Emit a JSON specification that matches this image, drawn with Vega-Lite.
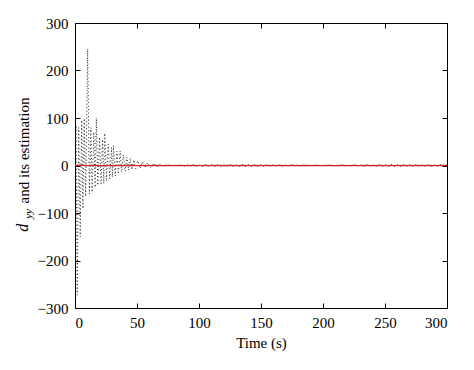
{
  "$schema": "https://vega.github.io/schema/vega-lite/v6.json",
  "width": 372,
  "height": 285,
  "autosize": "none",
  "padding": {"left": 75, "top": 23, "right": 27, "bottom": 62},
  "background": "white",
  "config": {
    "font": "Liberation Serif",
    "view": {"stroke": "black", "strokeWidth": 1},
    "axis": {
      "grid": false,
      "domainColor": "black",
      "tickColor": "black",
      "labelColor": "black",
      "titleColor": "black",
      "labelFont": "Liberation Serif",
      "titleFont": "Liberation Serif",
      "labelFontSize": 15,
      "titleFontSize": 15,
      "titleFontWeight": "normal",
      "tickSize": -5,
      "labelPadding": 12
    }
  },
  "datasets": {
    "est": [
      {"t": 0, "v": 0}, {"t": 5, "v": 0.6}, {"t": 10, "v": -0.4}, {"t": 15, "v": 0.5}, {"t": 20, "v": -0.3},
      {"t": 25, "v": 0.4}, {"t": 30, "v": -0.5}, {"t": 35, "v": 0.3}, {"t": 40, "v": -0.2}, {"t": 45, "v": 0.5},
      {"t": 50, "v": -0.4}, {"t": 55, "v": 0.3}, {"t": 60, "v": -0.3}, {"t": 65, "v": 0.4}, {"t": 70, "v": -0.2},
      {"t": 75, "v": 0.3}, {"t": 80, "v": -0.4}, {"t": 85, "v": 0.2}, {"t": 90, "v": -0.3}, {"t": 95, "v": 0.4},
      {"t": 100, "v": -0.2}, {"t": 105, "v": 0.3}, {"t": 110, "v": -0.4}, {"t": 115, "v": 0.3}, {"t": 120, "v": -0.2},
      {"t": 125, "v": 0.4}, {"t": 130, "v": -0.3}, {"t": 135, "v": 0.2}, {"t": 140, "v": -0.4}, {"t": 145, "v": 0.3},
      {"t": 150, "v": -0.2}, {"t": 155, "v": 0.4}, {"t": 160, "v": -0.3}, {"t": 165, "v": 0.2}, {"t": 170, "v": -0.4},
      {"t": 175, "v": 0.3}, {"t": 180, "v": -0.2}, {"t": 185, "v": 0.4}, {"t": 190, "v": -0.3}, {"t": 195, "v": 0.2},
      {"t": 200, "v": -0.4}, {"t": 205, "v": 0.3}, {"t": 210, "v": -0.2}, {"t": 215, "v": 0.4}, {"t": 220, "v": -0.3},
      {"t": 225, "v": 0.2}, {"t": 230, "v": -0.4}, {"t": 235, "v": 0.3}, {"t": 240, "v": -0.2}, {"t": 245, "v": 0.4},
      {"t": 250, "v": -0.3}, {"t": 255, "v": 0.2}, {"t": 260, "v": -0.4}, {"t": 265, "v": 0.3}, {"t": 270, "v": -0.2},
      {"t": 275, "v": 0.4}, {"t": 280, "v": -0.3}, {"t": 285, "v": 0.2}, {"t": 290, "v": -0.4}, {"t": 295, "v": 0.3},
      {"t": 300, "v": 0}
    ],
    "dyy": [
      {"t": 0, "v": 0}, {"t": 0.8, "v": 85}, {"t": 1.8, "v": -273}, {"t": 3.0, "v": 80}, {"t": 4.2, "v": -150},
      {"t": 5.4, "v": 95}, {"t": 6.4, "v": -91}, {"t": 7.4, "v": 99}, {"t": 8.6, "v": -65}, {"t": 10.2, "v": 245},
      {"t": 11.6, "v": -60}, {"t": 12.8, "v": 80}, {"t": 13.8, "v": -56}, {"t": 15.2, "v": 70}, {"t": 16.2, "v": -46},
      {"t": 17.2, "v": 100}, {"t": 18.4, "v": -42}, {"t": 19.8, "v": 60}, {"t": 21.0, "v": -39}, {"t": 22.3, "v": 55},
      {"t": 23.2, "v": -38}, {"t": 24.0, "v": 68}, {"t": 25.4, "v": -33}, {"t": 26.8, "v": 45}, {"t": 28.0, "v": -28},
      {"t": 29.4, "v": 38}, {"t": 30.2, "v": -24}, {"t": 31.0, "v": 42}, {"t": 32.4, "v": -22}, {"t": 33.8, "v": 30},
      {"t": 35.0, "v": -18}, {"t": 36.4, "v": 31}, {"t": 37.6, "v": -14}, {"t": 39.0, "v": 22}, {"t": 40.4, "v": -12},
      {"t": 41.8, "v": 18}, {"t": 43.2, "v": -10}, {"t": 44.6, "v": 15}, {"t": 46, "v": -9}, {"t": 47.5, "v": 12},
      {"t": 49, "v": -7}, {"t": 50.5, "v": 10}, {"t": 52.5, "v": -6}, {"t": 54.5, "v": 8}, {"t": 56.5, "v": -5},
      {"t": 58.5, "v": 6}, {"t": 61, "v": -4}, {"t": 63.5, "v": 5}, {"t": 66, "v": -3}, {"t": 68.5, "v": 3},
      {"t": 72.5, "v": -2}, {"t": 75, "v": 1.8}, {"t": 77.5, "v": -1.5}, {"t": 80, "v": 2.2}, {"t": 82.5, "v": -1.8},
      {"t": 85, "v": 1.5}, {"t": 87.5, "v": -2.3}, {"t": 90, "v": 1.9}, {"t": 92.5, "v": -1.4}, {"t": 95, "v": 2.1},
      {"t": 97.5, "v": -1.9}, {"t": 100, "v": 1.6}, {"t": 102.5, "v": -2.2}, {"t": 105, "v": 1.7}, {"t": 107.5, "v": -1.5},
      {"t": 110, "v": 2.3}, {"t": 112.5, "v": -1.8}, {"t": 115, "v": 1.4}, {"t": 117.5, "v": -2.1}, {"t": 120, "v": 1.9},
      {"t": 122.5, "v": -1.6}, {"t": 125, "v": 2.0}, {"t": 127.5, "v": -2.2}, {"t": 130, "v": 1.5}, {"t": 132.5, "v": -1.7},
      {"t": 135, "v": 2.2}, {"t": 137.5, "v": -1.9}, {"t": 140, "v": 1.6}, {"t": 142.5, "v": -2.0}, {"t": 145, "v": 1.8},
      {"t": 147.5, "v": -1.5}, {"t": 150, "v": 2.1}, {"t": 152.5, "v": -2.3}, {"t": 155, "v": 1.7}, {"t": 157.5, "v": -1.6},
      {"t": 160, "v": 2.0}, {"t": 162.5, "v": -1.8}, {"t": 165, "v": 1.5}, {"t": 167.5, "v": -2.1}, {"t": 170, "v": 1.9},
      {"t": 172.5, "v": -1.7}, {"t": 175, "v": 2.2}, {"t": 177.5, "v": -1.5}, {"t": 180, "v": 1.8}, {"t": 182.5, "v": -2.0},
      {"t": 185, "v": 1.6}, {"t": 187.5, "v": -2.2}, {"t": 190, "v": 2.0}, {"t": 192.5, "v": -1.6}, {"t": 195, "v": 1.7},
      {"t": 197.5, "v": -1.9}, {"t": 200, "v": 2.1}, {"t": 202.5, "v": -1.5}, {"t": 205, "v": 1.8}, {"t": 207.5, "v": -2.3},
      {"t": 210, "v": 1.6}, {"t": 212.5, "v": -1.8}, {"t": 215, "v": 2.2}, {"t": 217.5, "v": -1.7}, {"t": 220, "v": 1.5},
      {"t": 222.5, "v": -2.0}, {"t": 225, "v": 1.9}, {"t": 227.5, "v": -1.6}, {"t": 230, "v": 2.1}, {"t": 232.5, "v": -2.2},
      {"t": 235, "v": 1.7}, {"t": 237.5, "v": -1.5}, {"t": 240, "v": 2.0}, {"t": 242.5, "v": -1.9}, {"t": 245, "v": 1.6},
      {"t": 247.5, "v": -2.1}, {"t": 250, "v": 1.8}, {"t": 252.5, "v": -1.7}, {"t": 255, "v": 2.2}, {"t": 257.5, "v": -1.5},
      {"t": 260, "v": 1.9}, {"t": 262.5, "v": -2.0}, {"t": 265, "v": 1.6}, {"t": 267.5, "v": -1.8}, {"t": 270, "v": 2.1},
      {"t": 272.5, "v": -2.2}, {"t": 275, "v": 1.7}, {"t": 277.5, "v": -1.6}, {"t": 280, "v": 2.0}, {"t": 282.5, "v": -1.9},
      {"t": 285, "v": 1.5}, {"t": 287.5, "v": -2.1}, {"t": 290, "v": 1.8}, {"t": 292.5, "v": -1.7}, {"t": 295, "v": 2.2},
      {"t": 297.5, "v": -1.6}, {"t": 300, "v": 1.5}
    ],
    "lab": [
      {"t": -38, "v": -131, "s": "d", "k": "main"},
      {"t": -34.5, "v": -102, "s": "yy", "k": "sub"}
    ]
  },
  "layer": [
    {
      "data": {"name": "dyy"},
      "mark": {"type": "line", "color": "#222222", "strokeWidth": 1, "strokeDash": [1, 2.5], "clip": true},
      "encoding": {
        "x": {"field": "t", "type": "quantitative", "scale": {"domain": [0, 300], "nice": false},
              "axis": {"orient": "top", "values": [0, 50, 100, 150, 200, 250, 300], "labels": false, "title": null, "domain": false}},
        "y": {"field": "v", "type": "quantitative", "scale": {"domain": [-300, 300], "nice": false},
              "axis": {"orient": "right", "values": [-300, -200, -100, 0, 100, 200, 300], "labels": false, "title": null, "domain": false}}
      }
    },
    {
      "data": {"name": "est"},
      "mark": {"type": "line", "color": "#c8282d", "strokeWidth": 1.3, "clip": true},
      "encoding": {
        "x": {"field": "t", "type": "quantitative",
              "axis": {"orient": "bottom", "values": [0, 50, 100, 150, 200, 250, 300], "title": "Time (s)", "titlePadding": 5, "labelFont": "Liberation Serif"}},
        "y": {"field": "v", "type": "quantitative",
              "axis": {"orient": "left", "values": [-300, -200, -100, 0, 100, 200, 300], "title": "and its estimation", "titleX": -44, "titleY": 127, "labelFont": "Liberation Serif"}}
      }
    },
    {
      "data": {"name": "lab"},
      "transform": [{"filter": "datum.k === 'main'"}],
      "mark": {"type": "text", "angle": 270, "font": "Liberation Serif", "fontStyle": "italic", "fontSize": 16, "align": "center", "baseline": "alphabetic", "color": "black"},
      "encoding": {
        "x": {"field": "t", "type": "quantitative", "axis": null},
        "y": {"field": "v", "type": "quantitative", "axis": null},
        "text": {"field": "s"}
      }
    },
    {
      "data": {"name": "lab"},
      "transform": [{"filter": "datum.k === 'sub'"}],
      "mark": {"type": "text", "angle": 270, "font": "Liberation Serif", "fontStyle": "italic", "fontSize": 11, "align": "center", "baseline": "alphabetic", "color": "black"},
      "encoding": {
        "x": {"field": "t", "type": "quantitative", "axis": null},
        "y": {"field": "v", "type": "quantitative", "axis": null},
        "text": {"field": "s"}
      }
    }
  ],
  "resolve": {"axis": {"x": "independent", "y": "independent"}}
}
